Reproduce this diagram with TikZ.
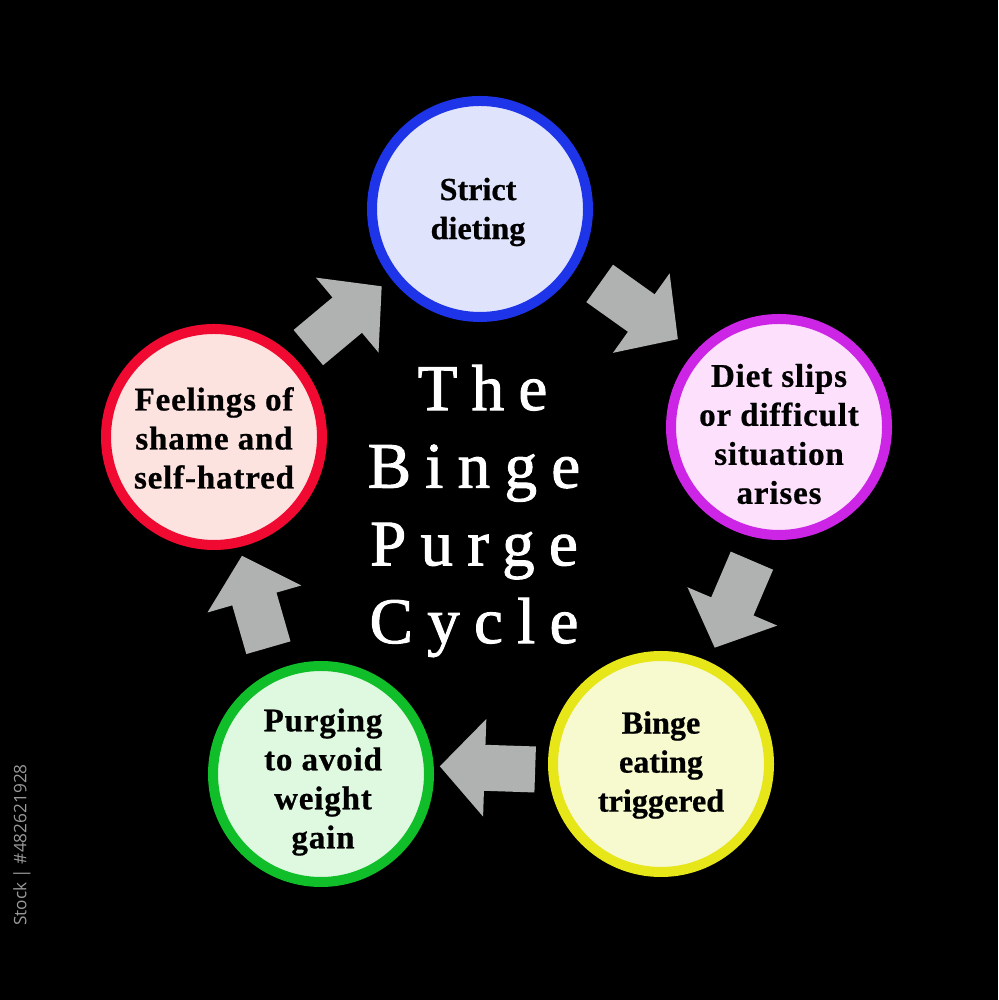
\documentclass[tikz,border=0pt]{standalone}
\usepackage{fontspec}
\setmainfont{Liberation Serif}
\newfontfamily\titlefont[LetterSpace=22,FakeBold=1.5]{Liberation Serif}
\newfontfamily\stagefont[FakeBold=0.6]{Liberation Serif Bold}
\newfontfamily\widefont[LetterSpace=2.5,FakeBold=0.6]{Liberation Serif Bold}
\newfontfamily\sidefont{Open Sans}
\usetikzlibrary{arrows.meta}
\definecolor{blueline}{HTML}{1E34E8}
\definecolor{bluefill}{HTML}{DFE3FC}
\definecolor{pinkline}{HTML}{CC25E6}
\definecolor{pinkfill}{HTML}{FCE0FC}
\definecolor{yellowline}{HTML}{E6E619}
\definecolor{yellowfill}{HTML}{F7F9CF}
\definecolor{greenline}{HTML}{10BE2A}
\definecolor{greenfill}{HTML}{DFF8E0}
\definecolor{redline}{HTML}{F00A32}
\definecolor{redfill}{HTML}{FDE3E0}
\definecolor{arrowgray}{HTML}{B0B2B2}
\tikzset{
  stage/.style={circle, line width=0.1cm, minimum size=2.16cm, inner sep=0pt},
  stagetext/.style={align=center, text=black, font=\stagefont\fontsize{9.15}{11.1}\selectfont},
  widetext/.style={align=center, text=black, font=\widefont\fontsize{9.4}{11.1}\selectfont},
  blockarrow/.style={draw=arrowgray, line width=0.46cm,
    -{Triangle[length=0.45cm, width=0.95cm, fill=arrowgray]}}
}
\begin{document}
\begin{tikzpicture}
  % Fond
  \fill[black] (0,0) rectangle (9.98,10);

  % Etapes du cycle
  \node[stage, draw=blueline, fill=bluefill] (strict) at (4.80,7.91) {};
  \node[stage, draw=pinkline, fill=pinkfill] (diet) at (7.79,5.73) {};
  \node[stage, draw=yellowline, fill=yellowfill] (binge) at (6.61,2.36) {};
  \node[stage, draw=greenline, fill=greenfill] (purging) at (3.21,2.26) {};
  \node[stage, draw=redline, fill=redfill] (feelings) at (2.14,5.63) {};

  % Textes des etapes
  \node[stagetext] (stricttext) at ([xshift=-0.02cm, yshift=-0.03cm]strict) {Strict\\dieting};
  \node[widetext] (diettext) at ([yshift=-0.07cm]diet) {Diet slips\\or difficult\\situation\\arises};
  \node[stagetext] (bingetext) at ([yshift=-0.01cm]binge) {Binge\\eating\\triggered};
  \node[widetext] (purgingtext) at ([xshift=0.02cm, yshift=-0.08cm]purging) {Purging\\to avoid\\weight\\gain};
  \node[widetext] (feelingstext) at ([yshift=-0.01cm]feelings) {Feelings of\\shame and\\self-hatred};

  % Titre
  \node[text=white, align=center, font=\titlefont\fontsize{18.5}{22.1}\selectfont] (title) at (4.74,4.89)
    {\hspace{0.17cm}The\\Binge\\Purge\\Cycle};

  % Fleches
  \draw[blockarrow, shorten <=0.28cm, shorten >=0.21cm] (strict.-31) -- (diet.138);
  \draw[blockarrow, shorten <=0.24cm, shorten >=0.15cm] (diet.261) -- (binge.65);
  \draw[blockarrow, shorten <=0.13cm, shorten >=0.06cm] (binge.183) -- (purging.4);
  \draw[blockarrow, shorten <=0.24cm, shorten >=0.09cm] (purging.114) -- (feelings.-77);
  \draw[blockarrow, shorten <=0.17cm, shorten >=0.12cm] (feelings.44) -- (strict.218);

  % Mention verticale
  \node[rotate=90, text=gray!80, font=\sidefont\fontsize{4.9}{6}\selectfont] (stock) at (0.22,1.55)
    {Stock | \#482621928};
\end{tikzpicture}
\end{document}
